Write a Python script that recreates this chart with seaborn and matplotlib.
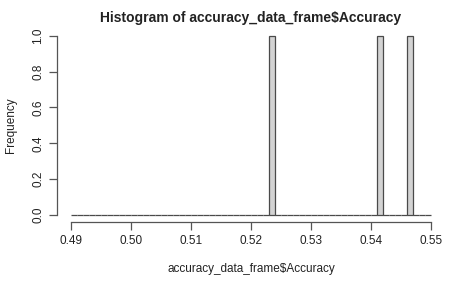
import numpy as np
import matplotlib
matplotlib.use("Agg")
import matplotlib.pyplot as plt
import seaborn as sns

# Data
accuracy = [0.5235, 0.5415, 0.5465]
bin_start = 0.49
bin_end = 0.55
bin_width = 0.001
x_ticks = [0.49, 0.50, 0.51, 0.52, 0.53, 0.54, 0.55]
y_ticks = [0.0, 0.2, 0.4, 0.6, 0.8, 1.0]

sns.set_style("white")
plt.rcParams['font.family'] = ['Liberation Sans', 'DejaVu Sans']

fig = plt.figure(figsize=(4.74, 2.92), dpi=100)
ax = fig.add_axes([0.1194, 0.239, 0.8203, 0.6634])

breaks = np.linspace(bin_start, bin_end, int(round((bin_end - bin_start) / bin_width)) + 1)
sns.histplot(x=accuracy, bins=breaks, ax=ax, color="#D3D3D3", edgecolor="#4a4a4a",
             linewidth=0.9, alpha=1)

span = bin_end - bin_start
ax.set_xlim(bin_start - 0.04 * span, bin_end + 0.04 * span)
ax.set_ylim(-0.04, 1.04)

axis_col = "#555555"
for s in ["top", "right"]:
    ax.spines[s].set_visible(False)
ax.spines["left"].set_bounds(0, 1)
ax.spines["bottom"].set_bounds(bin_start, bin_end)
for s in ["left", "bottom"]:
    ax.spines[s].set_color(axis_col)
    ax.spines[s].set_linewidth(0.9)

ax.set_xticks(x_ticks)
ax.set_xticklabels([f"{t:.2f}" for t in x_ticks])
ax.set_yticks(y_ticks)
ax.set_yticklabels([f"{t:.1f}" for t in y_ticks], rotation=90, va="center")
ax.tick_params(axis="both", length=6, width=0.9, color=axis_col, labelsize=8.5,
               labelcolor="#222222", direction="out", bottom=True, left=True, pad=3)

ax.set_xlabel("accuracy_data_frame\\$Accuracy", fontsize=8.5, color="#222222", labelpad=12)
ax.set_ylabel("Frequency", fontsize=8.5, color="#222222", labelpad=11)
ax.set_title("Histogram of accuracy_data_frame\\$Accuracy", fontsize=10, fontweight="bold",
             color="#222222", pad=4.5)

fig.savefig("out.png", dpi=100)
